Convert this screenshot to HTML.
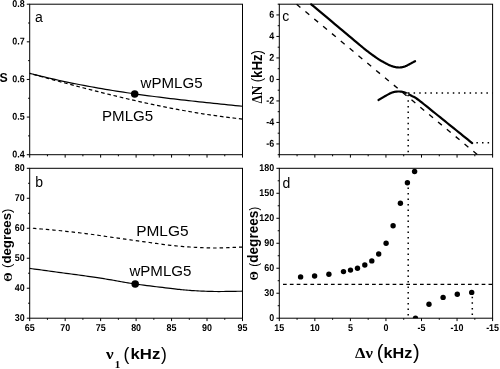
<!DOCTYPE html>
<html><head><meta charset="utf-8"><title>figure</title>
<style>html,body{margin:0;padding:0;background:#fff}body{width:500px;height:369px;overflow:hidden}</style></head>
<body>
<svg width="500" height="369" viewBox="0 0 500 369" style="display:block">
<rect width="500" height="369" fill="#fff"/>
<g fill="none" stroke="#000" stroke-width="1.00">
<rect x="29.7" y="4.2" width="212.80" height="150.50"/>
<rect x="29.7" y="168.3" width="212.80" height="149.90"/>
<rect x="279.3" y="4.2" width="213.30" height="150.50"/>
<rect x="279.3" y="168.3" width="213.30" height="149.90"/>
</g>
<path d="M29.70,154.7v2.9M47.43,154.7v1.6M65.17,154.7v2.9M82.90,154.7v1.6M100.63,154.7v2.9M118.37,154.7v1.6M136.10,154.7v2.9M153.83,154.7v1.6M171.57,154.7v2.9M189.30,154.7v1.6M207.03,154.7v2.9M224.77,154.7v1.6M242.50,154.7v2.9M279.30,154.7v2.9M297.07,154.7v1.6M314.85,154.7v2.9M332.62,154.7v1.6M350.40,154.7v2.9M368.18,154.7v1.6M385.95,154.7v2.9M403.73,154.7v1.6M421.50,154.7v2.9M439.27,154.7v1.6M457.05,154.7v2.9M474.83,154.7v1.6M492.60,154.7v2.9M29.70,318.2v2.9M47.43,318.2v1.6M65.17,318.2v2.9M82.90,318.2v1.6M100.63,318.2v2.9M118.37,318.2v1.6M136.10,318.2v2.9M153.83,318.2v1.6M171.57,318.2v2.9M189.30,318.2v1.6M207.03,318.2v2.9M224.77,318.2v1.6M242.50,318.2v2.9M279.30,318.2v2.9M297.07,318.2v1.6M314.85,318.2v2.9M332.62,318.2v1.6M350.40,318.2v2.9M368.18,318.2v1.6M385.95,318.2v2.9M403.73,318.2v1.6M421.50,318.2v2.9M439.27,318.2v1.6M457.05,318.2v2.9M474.83,318.2v1.6M492.60,318.2v2.9M29.7,154.70h-2.9M29.7,135.89h-1.6M29.7,117.07h-2.9M29.7,98.26h-1.6M29.7,79.45h-2.9M29.7,60.64h-1.6M29.7,41.82h-2.9M29.7,23.01h-1.6M29.7,4.20h-2.9M29.7,318.20h-2.9M29.7,303.21h-1.6M29.7,288.22h-2.9M29.7,273.23h-1.6M29.7,258.24h-2.9M29.7,243.25h-1.6M29.7,228.26h-2.9M29.7,213.27h-1.6M29.7,198.28h-2.9M29.7,183.29h-1.6M29.7,168.30h-2.9M279.3,154.70h-1.6M279.3,143.95h-2.9M279.3,133.20h-1.6M279.3,122.45h-2.9M279.3,111.70h-1.6M279.3,100.95h-2.9M279.3,90.20h-1.6M279.3,79.45h-2.9M279.3,68.70h-1.6M279.3,57.95h-2.9M279.3,47.20h-1.6M279.3,36.45h-2.9M279.3,25.70h-1.6M279.3,14.95h-2.9M279.3,4.20h-1.6M279.3,318.20h-2.9M279.3,305.71h-1.6M279.3,293.22h-2.9M279.3,280.73h-1.6M279.3,268.23h-2.9M279.3,255.74h-1.6M279.3,243.25h-2.9M279.3,230.76h-1.6M279.3,218.27h-2.9M279.3,205.77h-1.6M279.3,193.28h-2.9M279.3,180.79h-1.6M279.3,168.30h-2.9" stroke="#000" stroke-width="1" fill="none"/>
<g style="font-family:'Liberation Sans',Arial,sans-serif;font-weight:bold;font-size:9.4px" fill="#000">
<text transform="translate(24.6,157.50) scale(.95,1.05) rotate(0.03)" text-anchor="end">0.4</text>
<text transform="translate(24.6,119.87) scale(.95,1.05) rotate(0.03)" text-anchor="end">0.5</text>
<text transform="translate(24.6,82.25) scale(.95,1.05) rotate(0.03)" text-anchor="end">0.6</text>
<text transform="translate(24.6,44.62) scale(.95,1.05) rotate(0.03)" text-anchor="end">0.7</text>
<text transform="translate(24.6,7.00) scale(.95,1.05) rotate(0.03)" text-anchor="end">0.8</text>
<text transform="translate(24.6,321.00) scale(.95,1.05) rotate(0.03)" text-anchor="end">30</text>
<text transform="translate(24.6,291.02) scale(.95,1.05) rotate(0.03)" text-anchor="end">40</text>
<text transform="translate(24.6,261.04) scale(.95,1.05) rotate(0.03)" text-anchor="end">50</text>
<text transform="translate(24.6,231.06) scale(.95,1.05) rotate(0.03)" text-anchor="end">60</text>
<text transform="translate(24.6,201.08) scale(.95,1.05) rotate(0.03)" text-anchor="end">70</text>
<text transform="translate(24.6,171.10) scale(.95,1.05) rotate(0.03)" text-anchor="end">80</text>
<text transform="translate(274.1,146.75) scale(.95,1.05) rotate(0.03)" text-anchor="end">-6</text>
<text transform="translate(274.1,125.25) scale(.95,1.05) rotate(0.03)" text-anchor="end">-4</text>
<text transform="translate(274.1,103.75) scale(.95,1.05) rotate(0.03)" text-anchor="end">-2</text>
<text transform="translate(274.1,82.25) scale(.95,1.05) rotate(0.03)" text-anchor="end">0</text>
<text transform="translate(274.1,60.75) scale(.95,1.05) rotate(0.03)" text-anchor="end">2</text>
<text transform="translate(274.1,39.25) scale(.95,1.05) rotate(0.03)" text-anchor="end">4</text>
<text transform="translate(274.1,17.75) scale(.95,1.05) rotate(0.03)" text-anchor="end">6</text>
<text transform="translate(274.1,321.00) scale(.95,1.05) rotate(0.03)" text-anchor="end">0</text>
<text transform="translate(274.1,296.02) scale(.95,1.05) rotate(0.03)" text-anchor="end">30</text>
<text transform="translate(274.1,271.03) scale(.95,1.05) rotate(0.03)" text-anchor="end">60</text>
<text transform="translate(274.1,246.05) scale(.95,1.05) rotate(0.03)" text-anchor="end">90</text>
<text transform="translate(274.1,221.07) scale(.95,1.05) rotate(0.03)" text-anchor="end">120</text>
<text transform="translate(274.1,196.08) scale(.95,1.05) rotate(0.03)" text-anchor="end">150</text>
<text transform="translate(274.1,171.10) scale(.95,1.05) rotate(0.03)" text-anchor="end">180</text>
<text transform="translate(29.70,331.0) scale(.95,1.05) rotate(0.03)" text-anchor="middle">65</text>
<text transform="translate(65.17,331.0) scale(.95,1.05) rotate(0.03)" text-anchor="middle">70</text>
<text transform="translate(100.63,331.0) scale(.95,1.05) rotate(0.03)" text-anchor="middle">75</text>
<text transform="translate(136.10,331.0) scale(.95,1.05) rotate(0.03)" text-anchor="middle">80</text>
<text transform="translate(171.57,331.0) scale(.95,1.05) rotate(0.03)" text-anchor="middle">85</text>
<text transform="translate(207.03,331.0) scale(.95,1.05) rotate(0.03)" text-anchor="middle">90</text>
<text transform="translate(242.50,331.0) scale(.95,1.05) rotate(0.03)" text-anchor="middle">95</text>
<text transform="translate(279.30,331.0) scale(.95,1.05) rotate(0.03)" text-anchor="middle">15</text>
<text transform="translate(314.85,331.0) scale(.95,1.05) rotate(0.03)" text-anchor="middle">10</text>
<text transform="translate(350.40,331.0) scale(.95,1.05) rotate(0.03)" text-anchor="middle">5</text>
<text transform="translate(385.95,331.0) scale(.95,1.05) rotate(0.03)" text-anchor="middle">0</text>
<text transform="translate(421.50,331.0) scale(.95,1.05) rotate(0.03)" text-anchor="middle">-5</text>
<text transform="translate(457.05,331.0) scale(.95,1.05) rotate(0.03)" text-anchor="middle">-10</text>
<text transform="translate(492.60,331.0) scale(.95,1.05) rotate(0.03)" text-anchor="middle">-15</text>
</g>
<g style="font-family:'Liberation Sans',Arial,sans-serif;font-size:14px" fill="#000">
<text x="35" y="22">a</text>
<text x="35.2" y="187.4">b</text>
<text x="282.2" y="21.2">c</text>
<text x="282.4" y="187.6">d</text>
<text x="140.6" y="87.6" textLength="62" lengthAdjust="spacingAndGlyphs">wPMLG5</text>
<text x="102" y="121" textLength="51.2" lengthAdjust="spacingAndGlyphs">PMLG5</text>
<text x="136.2" y="235.6" textLength="52.4" lengthAdjust="spacingAndGlyphs">PMLG5</text>
<text x="129.4" y="276.3" textLength="62" lengthAdjust="spacingAndGlyphs">wPMLG5</text>
</g>
<text x="-0.6" y="81.8" style="font-family:'Liberation Sans',Arial,sans-serif;font-weight:bold;font-size:12.3px">S</text>
<text transform="translate(11.7,281.7) rotate(-90)" style="font-family:'Liberation Serif','Times New Roman',serif;font-weight:bold;font-size:12px">Θ</text>
<text transform="translate(11.2,268.0) rotate(-90)" style="font-family:'Liberation Sans',Arial,sans-serif;font-weight:bold;font-size:13px" textLength="59.5" lengthAdjust="spacingAndGlyphs"><tspan style="font-weight:normal">(</tspan>degrees<tspan style="font-weight:normal">)</tspan></text>
<text transform="translate(257.8,280.5) rotate(-90)" style="font-family:'Liberation Serif','Times New Roman',serif;font-weight:bold;font-size:12px">Θ</text>
<text transform="translate(258.3,266.7) rotate(-90) scale(1,1.15)" style="font-family:'Liberation Sans',Arial,sans-serif;font-weight:bold;font-size:13px" textLength="60" lengthAdjust="spacingAndGlyphs"><tspan style="font-weight:normal;font-size:11px" dy="-0.6">(</tspan><tspan dy="0.6">degrees</tspan><tspan style="font-weight:normal;font-size:11px" dy="-0.6">)</tspan></text>
<text transform="translate(261.8,103.6) rotate(-90) scale(1,1.1)"><tspan style="font-family:'Liberation Serif','Times New Roman',serif;font-weight:bold;font-size:13.2px">ΔN</tspan><tspan style="font-family:'Liberation Sans',Arial,sans-serif;font-size:13.2px" dx="3.5">(</tspan><tspan style="font-family:'Liberation Sans',Arial,sans-serif;font-weight:bold;font-size:13.2px">kHz</tspan><tspan style="font-family:'Liberation Sans',Arial,sans-serif;font-size:13.2px">)</tspan></text>
<text x="106" y="359" style="font-family:'Liberation Serif','Times New Roman',serif;font-weight:bold;font-size:14.5px" textLength="7.6" lengthAdjust="spacingAndGlyphs">ν</text>
<text x="114.8" y="368" style="font-family:'Liberation Serif','Times New Roman',serif;font-weight:bold;font-size:11px">1</text>
<text x="123.6" y="359.6" style="font-family:'Liberation Sans',Arial,sans-serif;font-size:17.5px">(</text>
<text x="130.5" y="359" style="font-family:'Liberation Sans',Arial,sans-serif;font-weight:bold;font-size:15px" textLength="29.8" lengthAdjust="spacingAndGlyphs">kHz</text>
<text x="161" y="359.6" style="font-family:'Liberation Sans',Arial,sans-serif;font-size:17.5px">)</text>
<text x="355" y="358.3" style="font-family:'Liberation Serif','Times New Roman',serif;font-weight:bold;font-size:14.5px" textLength="17.8" lengthAdjust="spacingAndGlyphs">Δν</text>
<text x="376.8" y="358.6" style="font-family:'Liberation Sans',Arial,sans-serif;font-size:20px">(</text>
<text x="383.5" y="358.3" style="font-family:'Liberation Sans',Arial,sans-serif;font-weight:bold;font-size:15px" textLength="28.8" lengthAdjust="spacingAndGlyphs">kHz</text>
<text x="413" y="358.6" style="font-family:'Liberation Sans',Arial,sans-serif;font-size:20px">)</text>
<path d="M29.70,73.33 L33.31,74.26 L36.91,75.17 L40.52,76.06 L44.13,76.93 L47.73,77.79 L51.34,78.63 L54.95,79.45 L58.55,80.25 L62.16,81.04 L65.77,81.81 L69.37,82.57 L72.98,83.31 L76.59,84.03 L80.19,84.74 L83.80,85.43 L87.41,86.12 L91.02,86.78 L94.62,87.43 L98.23,88.07 L101.84,88.70 L105.44,89.31 L109.05,89.92 L112.66,90.50 L116.26,91.08 L119.87,91.65 L123.48,92.20 L127.08,92.75 L130.69,93.28 L134.30,93.80 L137.90,94.31 L141.51,94.82 L145.12,95.31 L148.72,95.79 L152.33,96.27 L155.94,96.74 L159.54,97.20 L163.15,97.65 L166.76,98.09 L170.36,98.53 L173.97,98.96 L177.58,99.38 L181.18,99.80 L184.79,100.21 L188.40,100.62 L192.01,101.02 L195.61,101.42 L199.22,101.81 L202.83,102.19 L206.43,102.58 L210.04,102.95 L213.65,103.33 L217.25,103.70 L220.86,104.07 L224.47,104.44 L228.07,104.80 L231.68,105.17 L235.29,105.53 L238.89,105.89 L242.50,106.25" fill="none" stroke="#000" stroke-width="1.2"/>
<path d="M29.70,73.36 L33.31,74.36 L36.91,75.36 L40.52,76.35 L44.13,77.35 L47.73,78.33 L51.34,79.32 L54.95,80.30 L58.55,81.28 L62.16,82.25 L65.77,83.22 L69.37,84.19 L72.98,85.15 L76.59,86.10 L80.19,87.05 L83.80,88.00 L87.41,88.93 L91.02,89.86 L94.62,90.79 L98.23,91.70 L101.84,92.61 L105.44,93.51 L109.05,94.41 L112.66,95.29 L116.26,96.17 L119.87,97.04 L123.48,97.89 L127.08,98.74 L130.69,99.58 L134.30,100.41 L137.90,101.23 L141.51,102.04 L145.12,102.83 L148.72,103.62 L152.33,104.39 L155.94,105.15 L159.54,105.90 L163.15,106.64 L166.76,107.36 L170.36,108.07 L173.97,108.76 L177.58,109.45 L181.18,110.12 L184.79,110.77 L188.40,111.41 L192.01,112.03 L195.61,112.64 L199.22,113.24 L202.83,113.81 L206.43,114.37 L210.04,114.92 L213.65,115.45 L217.25,115.96 L220.86,116.45 L224.47,116.93 L228.07,117.38 L231.68,117.82 L235.29,118.24 L238.89,118.64 L242.50,119.03" fill="none" stroke="#000" stroke-width="1.2" stroke-dasharray="3.65 2.73" stroke-dashoffset="2.66"/>
<circle cx="134.7" cy="94" r="3.75" fill="#000"/>
<path d="M29.70,268.40 L32.10,268.72 L34.49,269.05 L36.88,269.37 L39.27,269.70 L41.66,270.02 L44.06,270.34 L46.45,270.67 L48.85,270.99 L51.25,271.32 L53.66,271.64 L56.08,271.97 L58.50,272.30 L60.96,272.63 L63.47,272.97 L66.02,273.31 L68.58,273.65 L71.15,274.00 L73.71,274.34 L76.25,274.68 L78.74,275.01 L81.18,275.35 L83.54,275.67 L85.82,275.99 L88.00,276.30 L90.05,276.60 L91.98,276.88 L93.82,277.15 L95.57,277.41 L97.27,277.67 L98.93,277.93 L100.58,278.18 L102.24,278.44 L103.93,278.71 L105.67,278.99 L107.49,279.29 L109.40,279.60 L111.37,279.93 L113.34,280.27 L115.32,280.62 L117.32,280.99 L119.36,281.36 L121.43,281.73 L123.55,282.11 L125.73,282.49 L127.98,282.87 L130.30,283.25 L132.70,283.63 L135.20,284.00 L137.86,284.37 L140.72,284.76 L143.73,285.16 L146.85,285.56 L150.03,285.95 L153.24,286.35 L156.43,286.74 L159.55,287.11 L162.56,287.47 L165.42,287.81 L168.08,288.12 L170.50,288.40 L172.66,288.65 L174.61,288.88 L176.37,289.09 L177.99,289.28 L179.50,289.45 L180.93,289.61 L182.33,289.75 L183.72,289.89 L185.15,290.02 L186.65,290.15 L188.25,290.27 L190.00,290.40 L191.85,290.53 L193.74,290.65 L195.67,290.77 L197.63,290.89 L199.63,290.99 L201.66,291.09 L203.72,291.19 L205.81,291.27 L207.93,291.34 L210.06,291.41 L212.22,291.46 L214.40,291.50 L216.61,291.52 L218.87,291.53 L221.16,291.52 L223.49,291.50 L225.85,291.47 L228.22,291.44 L230.60,291.40 L233.00,291.35 L235.39,291.31 L237.77,291.27 L240.15,291.23 L242.50,291.20" fill="none" stroke="#000" stroke-width="1.2"/>
<path d="M29.70,228.00 L32.10,228.21 L34.49,228.41 L36.88,228.60 L39.27,228.80 L41.66,229.00 L44.06,229.19 L46.45,229.39 L48.85,229.60 L51.25,229.81 L53.66,230.03 L56.08,230.26 L58.50,230.50 L60.94,230.75 L63.40,231.01 L65.87,231.28 L68.36,231.55 L70.84,231.83 L73.33,232.11 L75.81,232.40 L78.29,232.70 L80.75,232.99 L83.19,233.29 L85.61,233.60 L88.00,233.90 L90.36,234.21 L92.68,234.52 L94.97,234.84 L97.24,235.16 L99.50,235.48 L101.75,235.81 L104.00,236.14 L106.26,236.47 L108.53,236.80 L110.82,237.13 L113.14,237.47 L115.50,237.80 L117.90,238.14 L120.35,238.48 L122.83,238.83 L125.33,239.18 L127.85,239.53 L130.38,239.88 L132.89,240.23 L135.39,240.58 L137.86,240.92 L140.29,241.25 L142.68,241.58 L145.00,241.90 L147.28,242.21 L149.55,242.53 L151.80,242.84 L154.02,243.15 L156.21,243.45 L158.38,243.75 L160.50,244.04 L162.59,244.32 L164.64,244.59 L166.64,244.84 L168.60,245.08 L170.50,245.30 L172.32,245.50 L174.04,245.69 L175.68,245.86 L177.26,246.02 L178.80,246.16 L180.32,246.30 L181.83,246.43 L183.36,246.55 L184.92,246.66 L186.54,246.78 L188.22,246.89 L190.00,247.00 L191.85,247.11 L193.74,247.23 L195.67,247.34 L197.63,247.46 L199.63,247.56 L201.66,247.66 L203.72,247.75 L205.81,247.83 L207.93,247.90 L210.06,247.95 L212.22,247.99 L214.40,248.00 L216.61,247.99 L218.87,247.96 L221.16,247.91 L223.49,247.84 L225.85,247.76 L228.22,247.67 L230.60,247.57 L233.00,247.47 L235.39,247.37 L237.77,247.27 L240.15,247.18 L242.50,247.10" fill="none" stroke="#000" stroke-width="1.2" stroke-dasharray="3.5 2.978" stroke-dashoffset="3.278"/>
<circle cx="135.2" cy="284" r="3.75" fill="#000"/>
<path d="M296.6,4.2 L477.4,154.7" fill="none" stroke="#000" stroke-width="1.35" stroke-dasharray="5 6.5"/>
<path d="M311.20,4.30 L314.06,6.70 L317.00,9.16 L319.99,11.66 L323.00,14.18 L326.01,16.70 L329.00,19.21 L331.94,21.67 L334.80,24.06 L337.56,26.38 L340.20,28.58 L342.69,30.67 L345.00,32.60 L347.14,34.40 L349.15,36.08 L351.03,37.67 L352.80,39.16 L354.47,40.57 L356.05,41.90 L357.56,43.17 L359.00,44.37 L360.39,45.53 L361.75,46.65 L363.08,47.74 L364.40,48.80 L365.69,49.82 L366.92,50.79 L368.09,51.70 L369.21,52.55 L370.29,53.36 L371.31,54.12 L372.29,54.84 L373.23,55.51 L374.13,56.16 L374.99,56.77 L375.81,57.35 L376.60,57.90 L377.33,58.41 L378.00,58.85 L378.59,59.25 L379.14,59.60 L379.65,59.91 L380.13,60.19 L380.58,60.46 L381.04,60.71 L381.49,60.97 L381.97,61.23 L382.46,61.50 L383.00,61.80 L383.57,62.12 L384.16,62.44 L384.75,62.77 L385.36,63.10 L385.98,63.42 L386.59,63.74 L387.19,64.06 L387.79,64.36 L388.38,64.65 L388.94,64.92 L389.48,65.17 L390.00,65.40 L390.49,65.61 L390.96,65.80 L391.41,65.97 L391.84,66.12 L392.26,66.26 L392.67,66.39 L393.07,66.51 L393.46,66.62 L393.85,66.72 L394.23,66.82 L394.61,66.91 L395.00,67.00 L395.38,67.08 L395.76,67.16 L396.14,67.23 L396.51,67.29 L396.87,67.34 L397.23,67.38 L397.59,67.42 L397.94,67.45 L398.28,67.47 L398.63,67.49 L398.96,67.50 L399.30,67.50 L399.63,67.50 L399.95,67.48 L400.27,67.46 L400.58,67.44 L400.89,67.40 L401.19,67.36 L401.50,67.32 L401.80,67.26 L402.10,67.20 L402.40,67.14 L402.70,67.07 L403.00,67.00 L403.29,66.93 L403.55,66.87 L403.79,66.81 L404.03,66.74 L404.26,66.68 L404.50,66.60 L404.76,66.51 L405.04,66.40 L405.36,66.27 L405.72,66.11 L406.13,65.92 L406.60,65.70 L407.14,65.44 L407.73,65.14 L408.38,64.80 L409.07,64.44 L409.79,64.05 L410.54,63.65 L411.31,63.24 L412.09,62.82 L412.86,62.40 L413.63,61.99 L414.38,61.59 L415.10,61.20" fill="none" stroke="#000" stroke-width="2.2" stroke-linecap="round"/>
<path d="M378.50,100.00 L379.12,99.64 L379.76,99.26 L380.40,98.89 L381.05,98.51 L381.70,98.13 L382.34,97.75 L382.98,97.38 L383.60,97.01 L384.21,96.66 L384.80,96.32 L385.36,96.00 L385.90,95.70 L386.41,95.41 L386.90,95.14 L387.36,94.88 L387.81,94.63 L388.24,94.39 L388.66,94.16 L389.07,93.94 L389.47,93.73 L389.86,93.53 L390.24,93.34 L390.62,93.17 L391.00,93.00 L391.37,92.84 L391.73,92.70 L392.07,92.57 L392.40,92.46 L392.73,92.35 L393.05,92.25 L393.37,92.16 L393.69,92.08 L394.00,92.00 L394.33,91.93 L394.66,91.86 L395.00,91.80 L395.35,91.74 L395.71,91.69 L396.07,91.64 L396.43,91.60 L396.80,91.57 L397.17,91.54 L397.54,91.52 L397.90,91.51 L398.26,91.50 L398.61,91.49 L398.96,91.49 L399.30,91.50 L399.63,91.51 L399.95,91.53 L400.27,91.55 L400.58,91.58 L400.89,91.61 L401.19,91.65 L401.50,91.69 L401.80,91.74 L402.10,91.80 L402.40,91.86 L402.70,91.93 L403.00,92.00 L403.30,92.08 L403.58,92.15 L403.86,92.24 L404.14,92.32 L404.42,92.41 L404.69,92.51 L404.98,92.62 L405.27,92.73 L405.58,92.86 L405.90,92.99 L406.24,93.14 L406.60,93.30 L406.98,93.47 L407.38,93.65 L407.79,93.84 L408.21,94.04 L408.65,94.25 L409.10,94.47 L409.56,94.70 L410.03,94.94 L410.51,95.19 L411.00,95.45 L411.50,95.72 L412.00,96.00 L412.46,96.24 L412.83,96.42 L413.15,96.55 L413.44,96.67 L413.75,96.79 L414.10,96.96 L414.52,97.18 L415.04,97.50 L415.70,97.93 L416.53,98.51 L417.55,99.26 L418.80,100.20 L420.30,101.36 L422.03,102.72 L423.96,104.25 L426.06,105.92 L428.29,107.71 L430.63,109.59 L433.03,111.54 L435.47,113.51 L437.93,115.49 L440.35,117.45 L442.72,119.37 L445.00,121.20 L447.23,122.99 L449.48,124.80 L451.73,126.61 L453.99,128.43 L456.26,130.26 L458.54,132.09 L460.82,133.93 L463.10,135.77 L465.38,137.60 L467.66,139.44 L469.93,141.27 L472.20,143.10" fill="none" stroke="#000" stroke-width="2.2" stroke-linecap="round"/>
<path d="M408,93 H492.6" fill="none" stroke="#000" stroke-width="1.5" stroke-dasharray="1.5 4.1"/>
<path d="M408.2,94.7 V154.7" fill="none" stroke="#000" stroke-width="1.5" stroke-dasharray="1.5 4.1"/>
<path d="M476.4,142.8 H492.6" fill="none" stroke="#000" stroke-width="1.5" stroke-dasharray="1.5 4.1"/>
<circle cx="407.2" cy="94.3" r="1.3" fill="#fff" stroke="#000" stroke-width="0.6"/>
<path d="M283,284.4 H492.6" fill="none" stroke="#000" stroke-width="1.2" stroke-dasharray="3.7 3.15"/>
<path d="M408.2,187.55 V318.2" fill="none" stroke="#000" stroke-width="1.5" stroke-dasharray="1.5 4.0"/>
<path d="M472.3,296.7 V318.2" fill="none" stroke="#000" stroke-width="1.5" stroke-dasharray="1.5 4.1"/>
<g fill="#000">
<circle cx="300.6" cy="276.9" r="2.7"/>
<circle cx="314.6" cy="276.0" r="2.7"/>
<circle cx="328.9" cy="274.3" r="2.7"/>
<circle cx="343.5" cy="271.6" r="2.7"/>
<circle cx="350.5" cy="270.1" r="2.7"/>
<circle cx="357.5" cy="268.3" r="2.7"/>
<circle cx="364.8" cy="265.0" r="2.7"/>
<circle cx="371.8" cy="260.9" r="2.7"/>
<circle cx="378.7" cy="254.0" r="2.7"/>
<circle cx="386.1" cy="243.3" r="2.7"/>
<circle cx="393.1" cy="225.8" r="2.7"/>
<circle cx="400.4" cy="203.2" r="2.7"/>
<circle cx="407.4" cy="182.8" r="2.7"/>
<circle cx="414.6" cy="171.5" r="2.7"/>
<circle cx="429" cy="304.2" r="2.7"/>
<circle cx="443.1" cy="297.4" r="2.7"/>
<circle cx="457.3" cy="294.3" r="2.7"/>
<circle cx="471.7" cy="292.4" r="2.7"/>
<path d="M412.8,318.2 A2.7,2.7 0 0 1 418.2,318.2 Z"/>
</g>
</svg>
</body></html>
